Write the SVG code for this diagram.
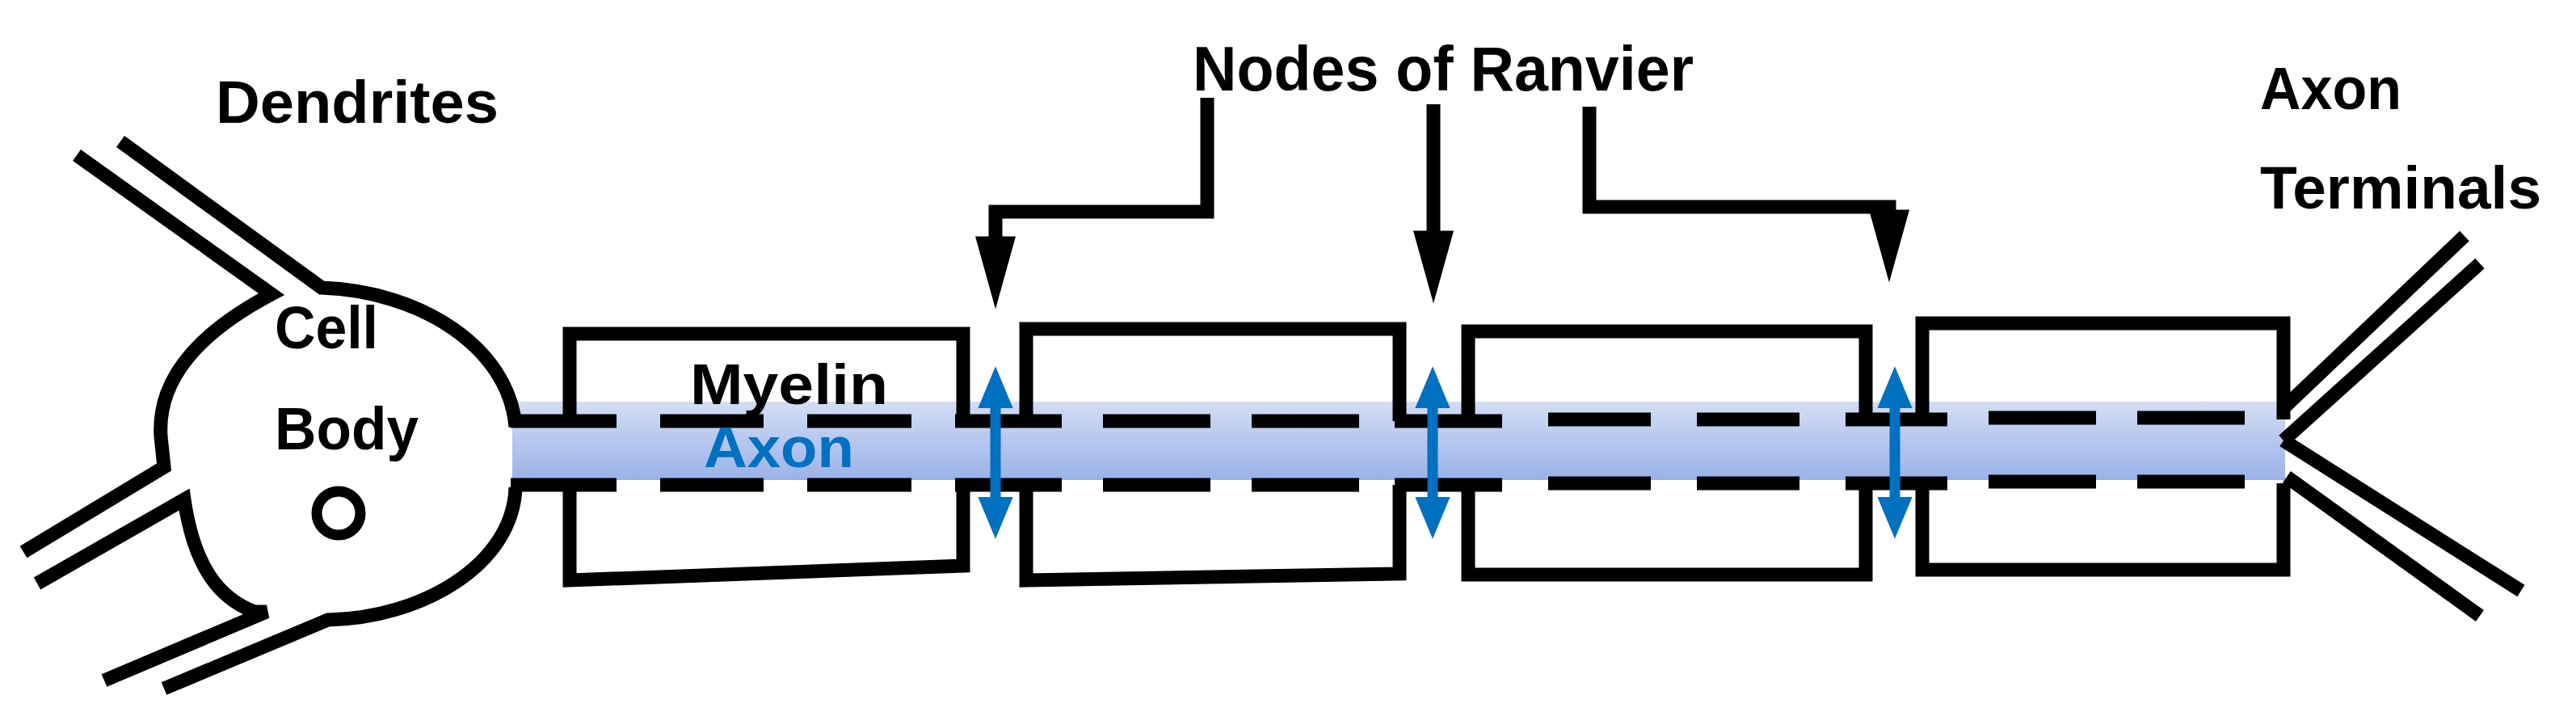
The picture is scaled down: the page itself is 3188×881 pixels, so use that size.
<svg xmlns="http://www.w3.org/2000/svg" width="3188" height="881" viewBox="0 0 3188 881">
<style>
.k{fill:none;stroke:#000;stroke-width:17;stroke-linejoin:miter}
.t{font-family:"Liberation Sans",Arial,sans-serif;font-weight:bold;font-size:74px;fill:#000}
.d{fill:none;stroke:#000;stroke-width:17}
.b{stroke:#0070C0;stroke-width:13;fill:none}
</style>
<defs>
<linearGradient id="g" x1="0" y1="0" x2="0" y2="1">
<stop offset="0" stop-color="#d3ddf5"/><stop offset="1" stop-color="#9ab2e8"/>
</linearGradient>
<marker id="ah" viewBox="0 0 18 10" refX="0.5" refY="5" markerWidth="5.3" markerHeight="3" orient="auto" markerUnits="strokeWidth"><path d="M0,0L18,5L0,10z" fill="#000"/></marker>
<marker id="bh" viewBox="0 0 12 10" refX="0.5" refY="5" markerWidth="4" markerHeight="3.6" orient="auto-start-reverse" markerUnits="strokeWidth"><path d="M0,0L12,5L0,10z" fill="#0070C0"/></marker>
</defs>
<rect x="634" y="497" width="2194" height="97" fill="url(#g)"/>
<g id="cell-body">
<path class="k" d="M95,192L336,364C230,420 195,480 199,540L203,578L29,683"/>
<path class="k" d="M149,175L398,356C520,360 630,430 638,528"/>
<path class="k" d="M46,722L228,618C240,700 270,740 315,757L330,757L129,842"/>
<path class="k" d="M638,603C635,700 520,765 406,767L203,852"/>
<circle cx="419" cy="635" r="27" fill="none" stroke="#000" stroke-width="13"/>
</g>
<g id="axon-membrane">
<path class="d" d="M632,521H763M632,600H763"/>
<path class="d" d="M1182,521H1314M1182,600H1314M1726,521H1859M1726,600H1859M2284,519H2410M2284,598H2410"/>
<path class="d" d="M817,521H945M999,521H1128M817,600H945M999,600H1128M1365,521H1498M1549,521H1682M1365,600H1498M1549,600H1682M1916,519H2043M2100,519H2227M1916,598H2043M2100,598H2227M2461,517H2594M2645,517H2778M2461,596H2594M2645,596H2778"/>
</g>
<g id="myelin-1"><path class="k" d="M705,521V413H1192V521M705,600V718L1192,700V600"/></g>
<g id="myelin-2"><path class="k" d="M1270,521V407H1732V521M1270,600V718L1732,710V600"/></g>
<g id="myelin-3"><path class="k" d="M1817,521V410H2309V521M1817,600V711H2309V600"/></g>
<g id="myelin-4"><path class="k" d="M2379,519V400H2826V519M2379,598V705H2826V598"/></g>
<g id="axon-terminals">
<path class="k" d="M2826,505L3050,292M2826,545L3069,326M2826,545L3120,731M2830,590L3069,762"/>
</g>
<g id="connectors">
<path class="k" d="M1494,121V262H1232V295" marker-end="url(#ah)"/>
<path class="k" d="M1774,129V288" marker-end="url(#ah)"/>
<path class="k" d="M1967,132V256H2338V262" marker-end="url(#ah)"/>
<path class="b" d="M1232,503V617" marker-start="url(#bh)" marker-end="url(#bh)"/>
<path class="b" d="M1773,503V617" marker-start="url(#bh)" marker-end="url(#bh)"/>
<path class="b" d="M2345,503V617" marker-start="url(#bh)" marker-end="url(#bh)"/>
</g>
<g id="labels">
<text class="t" x="267" y="152" textLength="350" lengthAdjust="spacingAndGlyphs">Dendrites</text>
<text class="t" x="1476" y="112" style="font-size:78px" textLength="620" lengthAdjust="spacingAndGlyphs">Nodes of Ranvier</text>
<text class="t" x="2797" y="135" textLength="175" lengthAdjust="spacingAndGlyphs">Axon</text>
<text class="t" x="2797" y="258" textLength="348" lengthAdjust="spacingAndGlyphs">Terminals</text>
<text class="t" x="340" y="431" textLength="128" lengthAdjust="spacingAndGlyphs">Cell</text>
<text class="t" x="340" y="556" textLength="178" lengthAdjust="spacingAndGlyphs">Body</text>
<text class="t" x="854" y="500" style="font-size:70px" textLength="245" lengthAdjust="spacingAndGlyphs">Myelin</text>
<text class="t" x="871" y="578" style="fill:#0070C0;font-size:70px" textLength="186" lengthAdjust="spacingAndGlyphs">Axon</text>
</g>
</svg>
